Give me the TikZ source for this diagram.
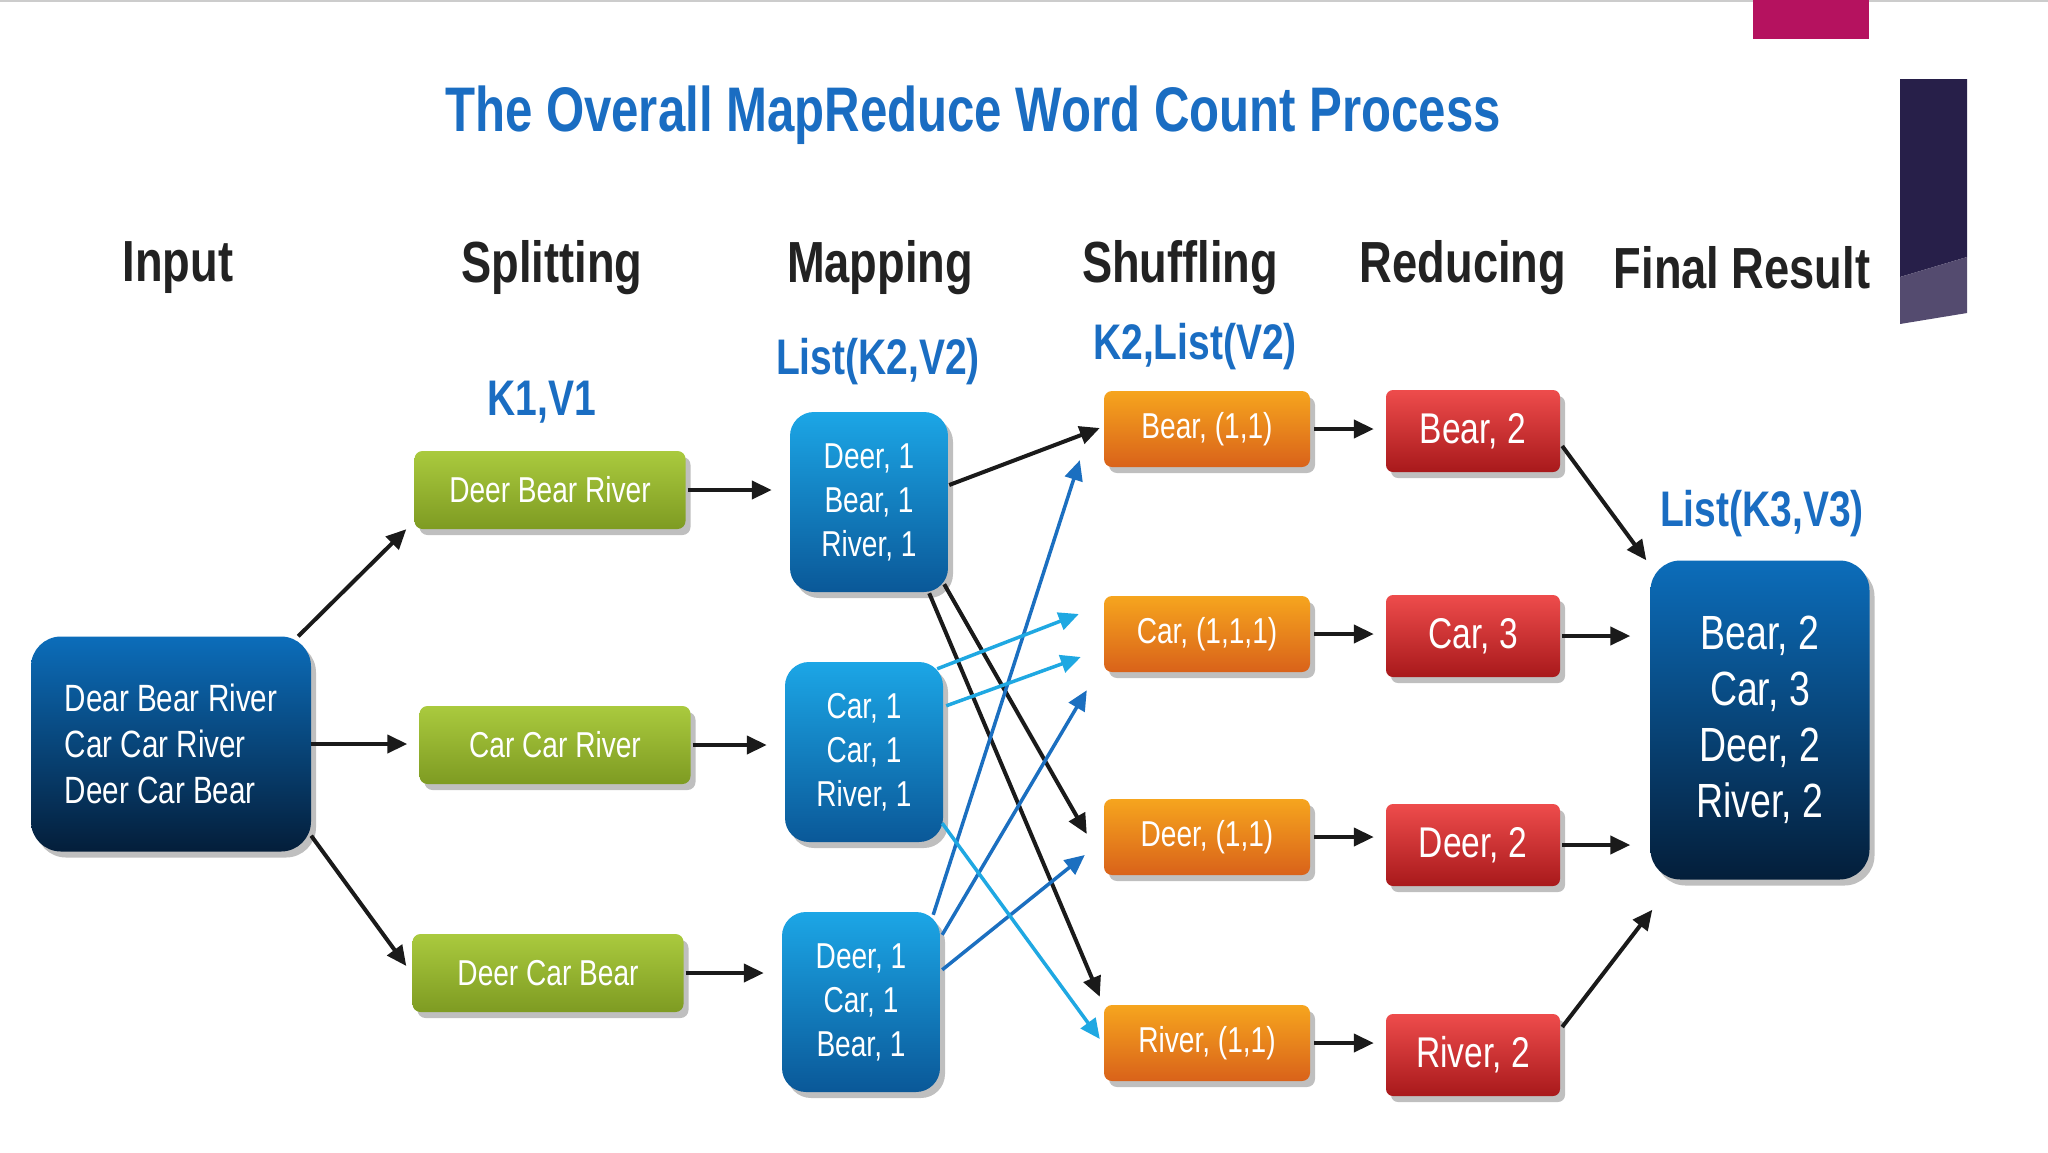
\documentclass[tikz,border=0pt]{standalone}
\usepackage{fontspec}
\setmainfont{Liberation Sans}[FakeStretch=0.78]
\usetikzlibrary{shadows,arrows.meta,calc}
\definecolor{inTop}{HTML}{0C6DBA}
\definecolor{inBot}{HTML}{041E3A}
\definecolor{grTop}{HTML}{AACA3E}
\definecolor{grBot}{HTML}{7E9B22}
\definecolor{mpTop}{HTML}{1CA6E6}
\definecolor{mpBot}{HTML}{0A5898}
\definecolor{orTop}{HTML}{F6A51E}
\definecolor{orBot}{HTML}{D9621A}
\definecolor{rdTop}{HTML}{EE4C4C}
\definecolor{rdBot}{HTML}{A8191B}
\definecolor{headGray}{HTML}{222222}
\definecolor{kvBlue}{HTML}{1A6DC2}
\definecolor{arrBlack}{HTML}{1A1A1A}
\definecolor{arrBlue}{HTML}{1B6FC0}
\definecolor{arrCyan}{HTML}{1FA8E2}
\definecolor{decoPink}{HTML}{B5125F}
\definecolor{decoDark}{HTML}{271F49}
\definecolor{decoLight}{HTML}{544B6F}

\begin{document}
\begin{tikzpicture}[x=1pt,y=-1pt,
box/.style={rounded corners=8pt, text=white, align=center, inner sep=0pt,
    drop shadow={shadow xshift=5pt, shadow yshift=-6pt, opacity=0.25, fill=black}},
inbox/.style={box, rounded corners=30pt, minimum width=280pt, minimum height=215pt,
    top color=inTop, bottom color=inBot, align=left, font=\fontsize{38}{46}\selectfont},
splitbox/.style={box, minimum width=271pt, minimum height=78pt,
    top color=grTop, bottom color=grBot, font=\fontsize{36}{44}\selectfont},
mapbox/.style={box, rounded corners=24pt, minimum width=158pt, minimum height=180pt,
    top color=mpTop, bottom color=mpBot, font=\fontsize{36}{44}\selectfont},
shufbox/.style={box, minimum width=206pt, minimum height=76pt,
    top color=orTop, bottom color=orBot, font=\fontsize{36}{44}\selectfont},
redbox/.style={box, rounded corners=7pt, minimum width=174pt, minimum height=82pt,
    top color=rdTop, bottom color=rdBot, font=\fontsize{43}{50}\selectfont},
outbox/.style={box, rounded corners=30pt, minimum width=219pt, minimum height=319pt,
    top color=inTop, bottom color=inBot, font=\fontsize{48}{56}\selectfont},
head/.style={text=headGray, font=\bfseries\fontsize{58}{62}\selectfont},
kv/.style={text=kvBlue, font=\bfseries\fontsize{50}{56}\selectfont},
arr/.style={draw=arrBlack, line width=4pt, -{Triangle[length=20pt,width=18pt]}},
barr/.style={arr, draw=arrBlue, line width=3.5pt},
carr/.style={arr, draw=arrCyan, line width=3.5pt}]
\useasboundingbox[fill=white] (0,0) rectangle (2048,1152);
% slide decoration
\fill[black!20] (0,0) rectangle (2048,2);
\fill[decoPink] (1753,0) rectangle (1869,39);
\fill[decoDark] (1900,79) -- (1967,79) -- (1967,257) -- (1900,277) -- cycle;
\fill[decoLight] (1900,277) -- (1967,257) -- (1967,313) -- (1900,324) -- cycle;

\node[text=kvBlue, font=\bfseries\fontsize{63}{68}\selectfont] (title) at (973,115)
  {The Overall MapReduce Word Count Process};

\node[head] (hInput) at (178,268) {Input};
\node[head] (hSplit) at (552,268) {Splitting};
\node[head] (hMap) at (880,268) {Mapping};
\node[head] (hShuf) at (1180,268) {Shuffling};
\node[head] (hRed) at (1463,268) {Reducing};
\node[head] (hFinal) at (1742,268) {Final Result};

\node[kv] (kv1) at (542,402) {K1,V1};
\node[kv] (kv2) at (878,362) {List(K2,V2)};
\node[kv] (kv3) at (1195,347) {K2,List(V2)};
\node[kv] (kv4) at (1762,514) {List(K3,V3)};

\node[inbox] (input) at (171,744) {Dear Bear River\\Car Car River\\Deer Car Bear};

\node[splitbox] (s1) at (550,490) {Deer Bear River};
\node[splitbox] (s2) at (555,745) {Car Car River};
\node[splitbox] (s3) at (548,973) {Deer Car Bear};

\node[mapbox] (m1) at (869,502) {Deer, 1\\Bear, 1\\River, 1};
\node[mapbox] (m2) at (864,752) {Car, 1\\Car, 1\\River, 1};
\node[mapbox] (m3) at (861,1002) {Deer, 1\\Car, 1\\Bear, 1};

\node[shufbox] (sh1) at (1207,429) {Bear, (1,1)};
\node[shufbox] (sh2) at (1207,634) {Car, (1,1,1)};
\node[shufbox] (sh3) at (1207,837) {Deer, (1,1)};
\node[shufbox] (sh4) at (1207,1043) {River, (1,1)};

\node[redbox] (r1) at (1473,431) {Bear, 2};
\node[redbox] (r2) at (1473,636) {Car, 3};
\node[redbox] (r3) at (1473,845) {Deer, 2};
\node[redbox] (r4) at (1473,1055) {River, 2};

\node[outbox] (final) at (1760,720) {Bear, 2\\Car, 3\\Deer, 2\\River, 2};

% input to splits
\draw[arr] ($(input.north east)+(-13,0)$) -- ($(s1.south west)+(-8,0)$);
\draw[arr] (input.east) -- (input.east -| s2.west) [shorten >=12pt];
\draw[arr] ($(input.south east)+(0,-16)$) -- ($(s3.west)+(-6,-7)$);
% splits to maps
\foreach \i in {1,2,3}
  \draw[arr, shorten <=2pt, shorten >=18pt] (s\i.east) -- (s\i.east -| m\i.west);
% maps to shuffles
\draw[arr] ($(m1.east)+(1,-17)$) -- ($(sh1.west)+(-4,-1)$);
\draw[arr] ($(m1.south east)+(-4,-8)$) -- ($(sh3.west)+(-17,-3)$);
\draw[arr] ($(m1.south east)+(-19,1)$) -- ($(sh4.north west)+(-4,-8)$);
\draw[barr] ($(m3.north east)+(-7,3)$) -- ($(sh1.south west)+(-24,-7)$);
\draw[barr] ($(m3.north east)+(2,23)$) -- ($(sh2.south west)+(-17,18)$);
\draw[barr] ($(m3.north east)+(2,58)$) -- ($(sh3.west)+(-19,18)$);
\draw[carr] ($(m2.north east)+(-6,7)$) -- ($(sh2.west)+(-25,-20)$);
\draw[carr] ($(m2.north east)+(3,44)$) -- ($(sh2.west)+(-23,23)$);
\draw[carr] ($(m2.south east)+(-1,-19)$) -- ($(sh4.west)+(-4,-4)$);
% shuffles to reducers
\foreach \i in {1,...,4}
  \draw[arr, shorten <=4pt, shorten >=12pt] (sh\i.east) -- (sh\i.east -| r\i.west);
% reducers to final result
\draw[arr] ($(r1.east)+(2,15)$) -- ($(final.north west)+(-4,0)$);
\draw[arr, shorten <=2pt, shorten >=20pt] (r2.east) -- (r2.east -| final.west);
\draw[arr, shorten <=2pt, shorten >=20pt] (r3.east) -- (r3.east -| final.west);
\draw[arr] ($(r4.east)+(2,-28)$) -- ($(final.south west)+(2,30)$);
\end{tikzpicture}
\end{document}
